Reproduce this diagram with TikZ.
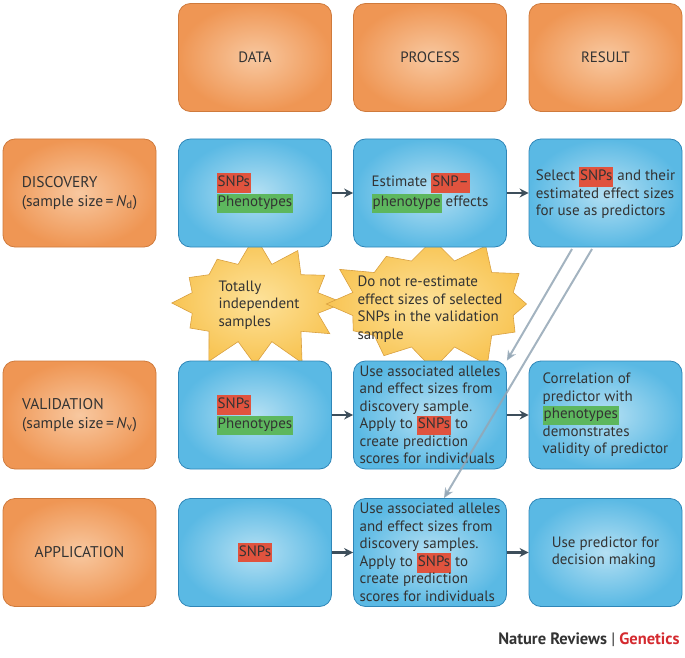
\documentclass[tikz,border=0pt]{standalone}
\usepackage{fontspec}
\setmainfont{PT Sans}
\usetikzlibrary{shapes.symbols, arrows.meta}

\definecolor{orangein}{HTML}{F8C8A0}
\definecolor{orangeout}{HTML}{EF9654}
\definecolor{orangeline}{HTML}{CF7A3C}
\definecolor{bluein}{HTML}{B5E0F3}
\definecolor{blueout}{HTML}{5AB9E4}
\definecolor{blueline}{HTML}{2F86B8}
\definecolor{burstin}{HTML}{FDE29A}
\definecolor{burstout}{HTML}{F8C453}
\definecolor{burstline}{HTML}{D9A040}
\definecolor{snpred}{HTML}{E0533E}
\definecolor{phengreen}{HTML}{5DB75E}
\definecolor{darkarrow}{HTML}{3D4E5B}
\definecolor{greyarrow}{HTML}{93A6B5}
\definecolor{textgrey}{HTML}{333333}
\definecolor{genred}{HTML}{D42A2F}

\newcommand{\snpmark}[1]{{\setlength{\fboxsep}{1pt}\colorbox{snpred}{\strut #1}}}
\newcommand{\phenmark}[1]{{\setlength{\fboxsep}{1pt}\colorbox{phengreen}{\strut #1}}}

\tikzset{
  header/.style={rectangle, rounded corners=12pt, draw=orangeline, line width=0.8pt,
    inner color=orangein, outer color=orangeout, minimum width=153pt, minimum height=108pt,
    text=textgrey, align=left, font=\fontsize{15}{18}\selectfont},
  rowlabel/.style={header, font=\fontsize{15.5}{19}\selectfont},
  cell/.style={rectangle, rounded corners=12pt, draw=blueline, line width=0.8pt,
    inner color=bluein, outer color=blueout, minimum width=153pt, minimum height=108pt,
    text=textgrey, align=left, font=\fontsize{15}{17.5}\selectfont},
  burst/.style={starburst, starburst points=12,
    inner color=burstin, outer color=burstout, draw=burstline, line width=0.6pt},
  bursttext/.style={text=textgrey, align=left, font=\fontsize{15}{17.5}\selectfont},
  flow/.style={-{Stealth[length=9pt,width=9pt]}, line width=2.6pt, draw=darkarrow},
  link/.style={-{Stealth[length=10pt,width=9pt]}, line width=2pt, draw=greyarrow, opacity=0.85}
}

\begin{document}
\begin{tikzpicture}[x=1pt,y=-1pt]
    \useasboundingbox (0,0) rectangle (685,658);

    % Starbursts (behind the boxes)
    \node[burst, random starburst=7, starburst point height=30pt,
          minimum width=190pt, minimum height=140pt] (indepburst) at (255,303) {};
    \node[bursttext] (indep) at (259,305) {Totally\\independent\\samples};
    \node[burst, random starburst=21, starburst point height=28pt,
          minimum width=222pt, minimum height=145pt] (reestburst) at (433,304) {};
    \node[bursttext] (reest) at (430,309) {Do not re-estimate\\effect sizes of selected\\SNPs in the validation\\sample};

    % Column headers
    \node[header] (hdata) at (255,57.5) {DATA};
    \node[header] (hproc) at (430,57.5) {PROCESS};
    \node[header] (hres) at (605.5,57.5) {RESULT};

    % Row labels
    \node[rowlabel] (ldisc) at (79.5,193) {DISCOVERY\\(sample size\,=\,\textit{N}\textsubscript{d})};
    \node[rowlabel] (lval) at (79.5,415) {VALIDATION\\(sample size\,=\,\textit{N}\textsubscript{v})};
    \node[rowlabel] (lapp) at (79.5,552.5) {APPLICATION};

    % Discovery row
    \node[cell] (ddata) at (255,193) {\snpmark{SNPs}\\\phenmark{Phenotypes}};
    \node[cell] (dproc) at (430,193) {Estimate \snpmark{SNP--}\\\phenmark{phenotype} effects};
    \node[cell] (dres) at (605.5,193) {Select \snpmark{SNPs} and their\\estimated effect sizes\\for use as predictors};

    % Validation row
    \node[cell] (vdata) at (255,415) {\snpmark{SNPs}\\\phenmark{Phenotypes}};
    \node[cell] (vproc) at (430,415) {Use associated alleles\\and effect sizes from\\discovery sample.\\Apply to \snpmark{SNPs} to\\create prediction\\scores for individuals};
    \node[cell] (vres) at (605.5,415) {Correlation of\\predictor with\\\phenmark{phenotypes}\\demonstrates\\validity of predictor};

    % Application row
    \node[cell] (adata) at (255,552.5) {\snpmark{SNPs}};
    \node[cell] (aproc) at (430,552.5) {Use associated alleles\\and effect sizes from\\discovery samples.\\Apply to \snpmark{SNPs} to\\create prediction\\scores for individuals};
    \node[cell] (ares) at (605.5,552.5) {Use predictor for\\decision making};

    % Flow arrows
    \draw[flow] (ddata) -- (dproc);
    \draw[flow] (dproc) -- (dres);
    \draw[flow] (vdata) -- (vproc);
    \draw[flow] (vproc) -- (vres);
    \draw[flow] (adata) -- (aproc);
    \draw[flow] (aproc) -- (ares);

    % Carry-over arrows
    \coordinate (c1) at (572,249);
    \coordinate (c2) at (592,249);
    \draw[link] (c1) -- (vproc.north east);
    \draw[link] (c2) -- ([xshift=14pt]aproc.north);

    % Credit
    \node[anchor=east, font=\fontsize{16.5}{19}\selectfont\bfseries, text=textgrey] (credit) at (683,640)
        {Nature Reviews \textcolor{textgrey}{\textmd{|}} \textcolor{genred}{Genetics}};
\end{tikzpicture}
\end{document}
